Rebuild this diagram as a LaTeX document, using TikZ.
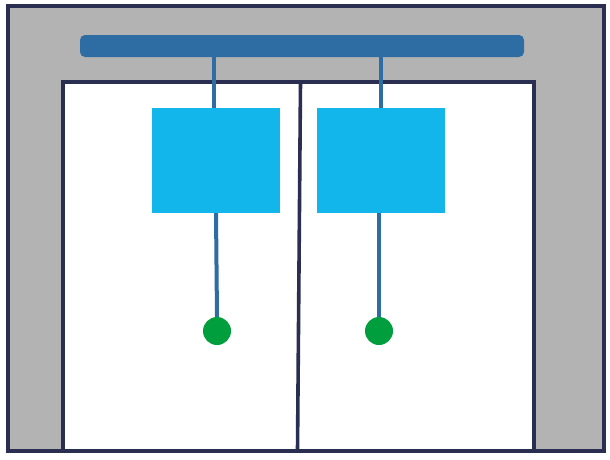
\documentclass[tikz,border=0pt]{standalone}
\usetikzlibrary{calc}
\definecolor{frame}{HTML}{2A2F52}
\definecolor{wallgray}{HTML}{B3B3B3}
\definecolor{rail}{HTML}{2E6DA3}
\definecolor{motor}{HTML}{12B6EA}
\definecolor{knob}{HTML}{009E3D}
\begin{document}
\begin{tikzpicture}[x=1pt,y=-1pt,
  wall/.style={draw=frame,line width=4pt,fill=wallgray},
  opening/.style={draw=frame,line width=4pt,fill=white},
  railbar/.style={fill=rail,rounded corners=5pt,minimum width=444pt,minimum height=22pt,inner sep=0pt},
  motorbox/.style={fill=motor,minimum width=128pt,minimum height=105pt,inner sep=0pt},
  knobdot/.style={circle,fill=knob,minimum size=28pt,inner sep=0pt},
  rod/.style={draw=rail,line width=4pt},
  divider/.style={draw=frame,line width=3.6pt}]
\useasboundingbox (0,0) rectangle (610,459);
\fill[white] (0,0) rectangle (610,459);
\draw[wall] (7.5,5.5) rectangle (603.5,451);
\draw[opening] (62.5,82) rectangle (534,451);
\coordinate (divtop) at (300.5,82);
\coordinate (divbot) at (297.5,451);
\draw[divider] (divtop) -- (divbot);
\draw[frame,line width=4pt] (62.5,451) -- (534,451);
\node[railbar] (bar) at (302,46) {};
\node[motorbox] (lbox) at (216,160.5) {};
\node[motorbox] (rbox) at (381,160.5) {};
\node[knobdot] (lknob) at (217,331) {};
\node[knobdot] (rknob) at (379,331) {};
\draw[rod] ([xshift=-2pt]lbox.north) -- ([xshift=-2pt]lbox.north |- bar.south);
\draw[rod] (rbox.north) -- (rbox.north |- bar.south);
\draw[rod] (lbox.south) -- (lknob.north);
\draw[rod] ([xshift=-2pt]rbox.south) -- (rknob.north);
\end{tikzpicture}
\end{document}
